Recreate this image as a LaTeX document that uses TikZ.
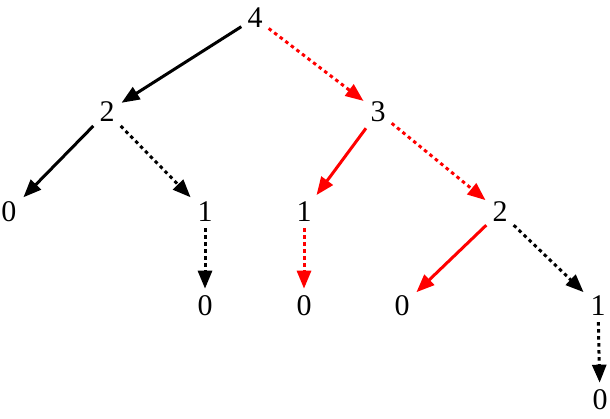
\documentclass[tikz,border=0pt]{standalone}
\usepackage{fontspec}
\setmainfont{Liberation Serif}
\usetikzlibrary{arrows.meta}
\begin{document}
\begin{tikzpicture}[x=1pt,y=-1pt,
  n/.style={font=\fontsize{30}{32}\selectfont, inner sep=6pt},
  ar/.style={line width=3pt,-{Triangle[length=18pt,width=14pt]},shorten >=1pt},
  dt/.style={ar,dash pattern=on 3.5pt off 3.5pt},
  rd/.style={red}]
\useasboundingbox (0,0) rectangle (610,419);
\node[n] (a) at (255,18) {4};
\node[n] (b) at (107,112) {2};
\node[n] (c) at (378,112) {3};
\node[n] (d) at (9,212) {0};
\node[n] (e) at (205,212) {1};
\node[n] (f) at (304,212) {1};
\node[n] (g) at (500,212) {2};
\node[n] (h) at (205,306) {0};
\node[n] (i) at (304,306) {0};
\node[n] (j) at (402,306) {0};
\node[n] (k) at (598,306) {1};
\node[n] (l) at (600,400) {0};
\draw[ar] (a) -- (b);
\draw[dt,rd] (a) -- (c);
\draw[ar] (b) -- (d);
\draw[dt] (b) -- (e);
\draw[ar,rd] (c) -- (f);
\draw[dt,rd] (c) -- (g);
\draw[dt] (e) -- (h);
\draw[dt,rd] (f) -- (i);
\draw[ar,rd] (g) -- (j);
\draw[dt] (g) -- (k);
\draw[dt] (k) -- (l);
\end{tikzpicture}
\end{document}
